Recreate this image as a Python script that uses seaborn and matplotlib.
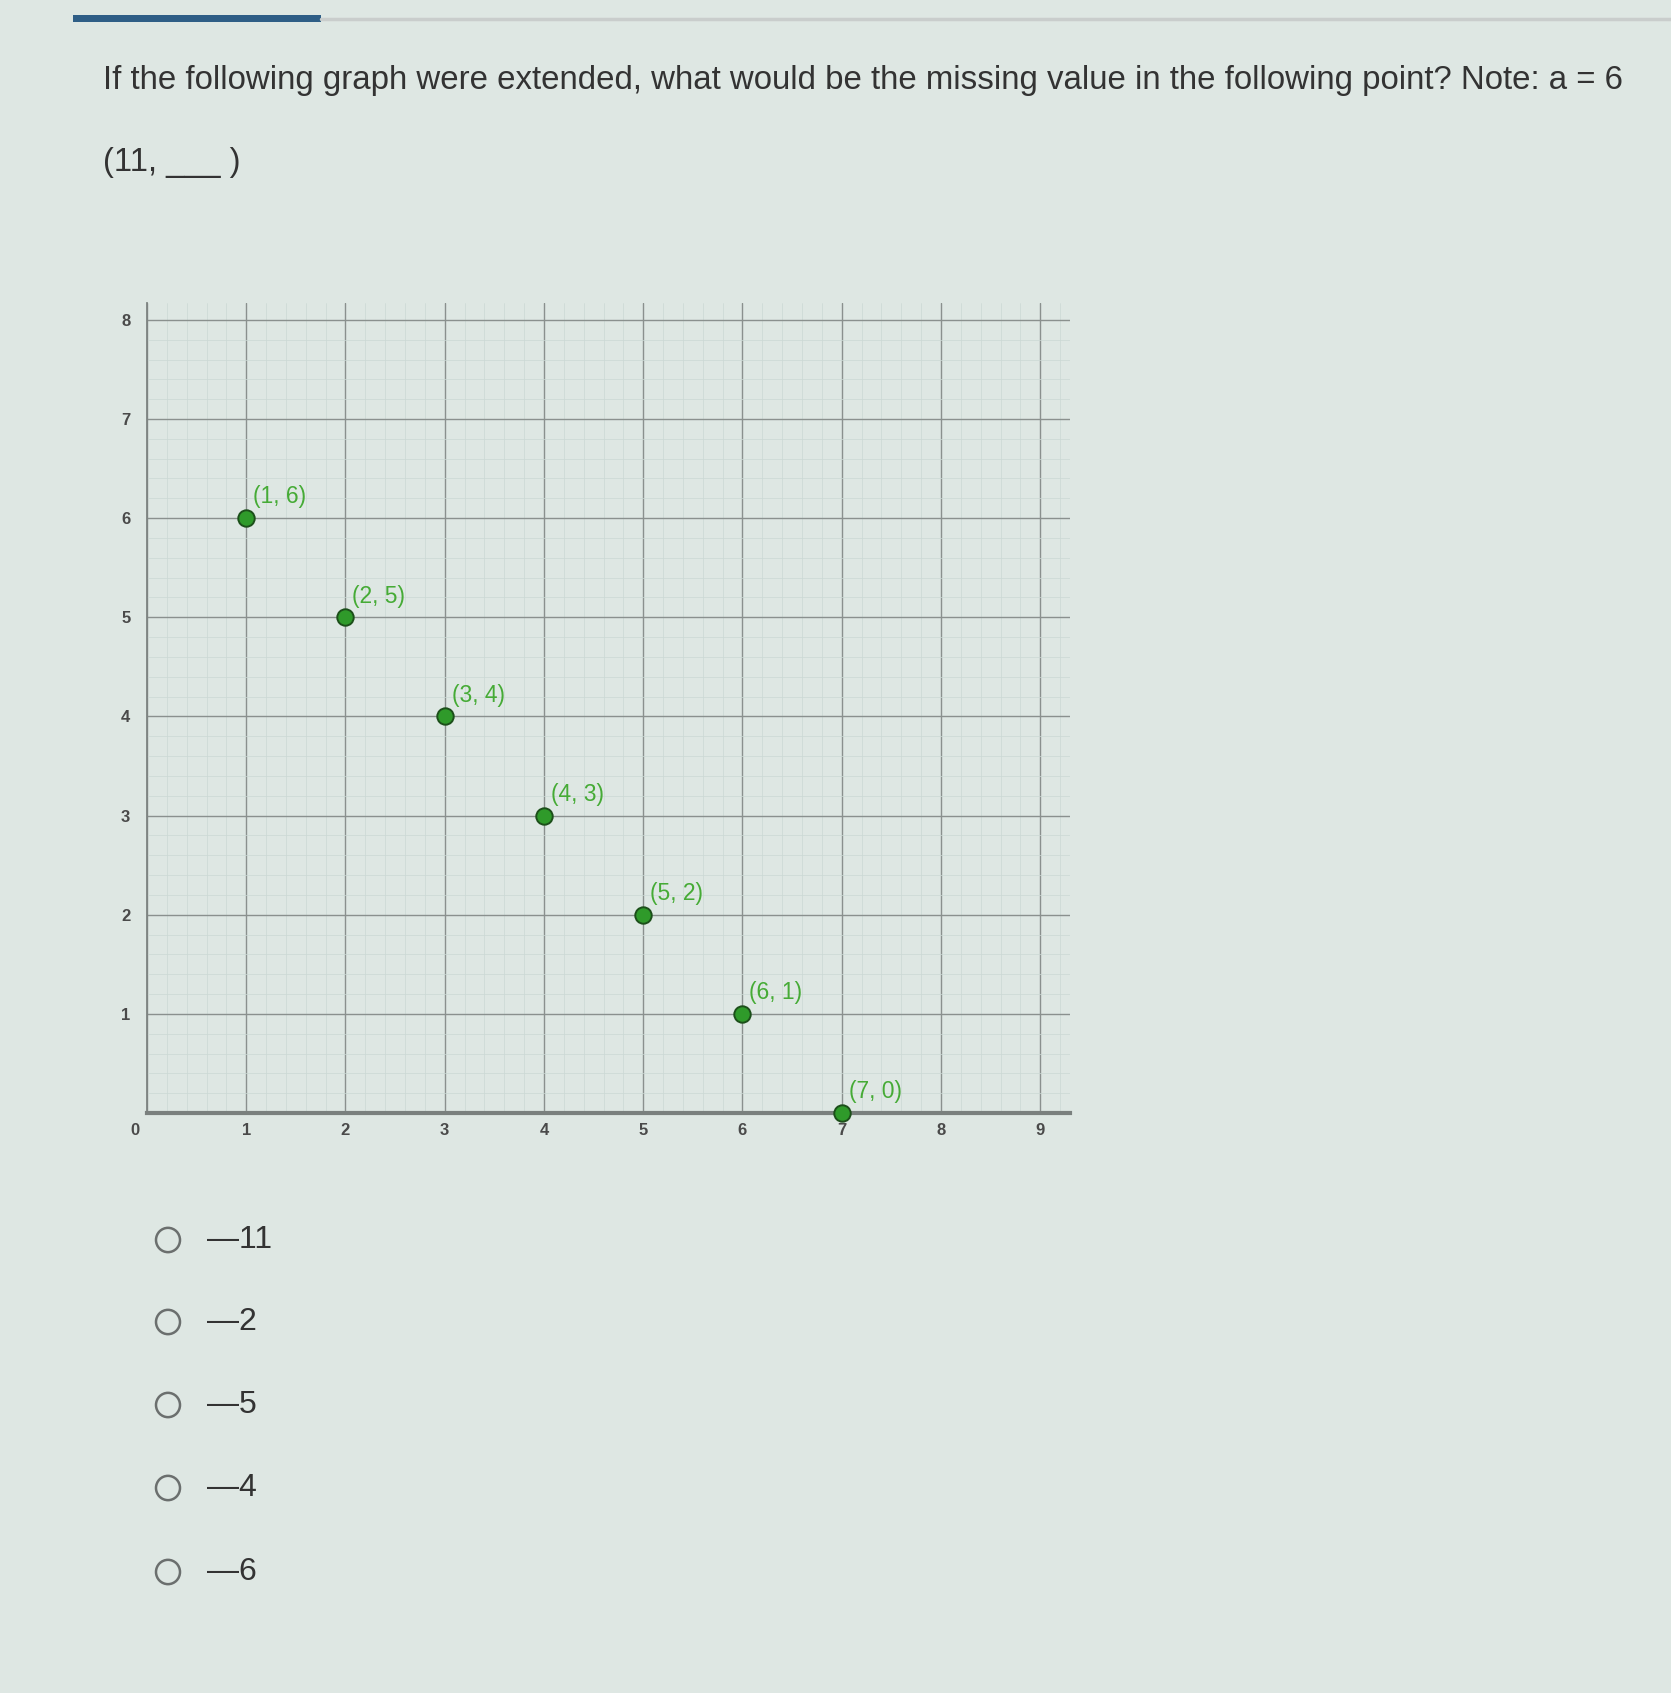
import matplotlib
matplotlib.use("Agg")
import matplotlib.pyplot as plt
import matplotlib.transforms as mtransforms
from matplotlib.lines import Line2D
from matplotlib.patches import Rectangle, Circle
import seaborn as sns
import pandas as pd
import numpy as np

# ---- data ----
point_x = [1, 2, 3, 4, 5, 6, 7]
point_y = [6, 5, 4, 3, 2, 1, 0]
point_labels = ["(1, 6)", "(2, 5)", "(3, 4)", "(4, 3)", "(5, 2)", "(6, 1)", "(7, 0)"]
x_ticks = [0, 1, 2, 3, 4, 5, 6, 7, 8, 9]
y_ticks = [1, 2, 3, 4, 5, 6, 7, 8]
question = "If the following graph were extended, what would be the missing value in the following point? Note: a = 6"
blank_point = "(11, ___ )"
answer_options = ["\u201411", "\u20142", "\u20145", "\u20144", "\u20146"]

sns.set_style("white")
plt.rcParams['font.family'] = ['Liberation Sans', 'DejaVu Sans']

BG = '#dee7e3'
W, H = 1671, 1693
fig = plt.figure(figsize=(W / 100, H / 100), dpi=100, facecolor=BG)

# axes placement in pixels
left_px, right_px, top_px, bottom_px = 147, 1070, 303, 1113
ax = fig.add_axes([left_px / W, 1 - bottom_px / H, (right_px - left_px) / W, (bottom_px - top_px) / H])
ax.set_facecolor('none')
ax.set_xlim(0, 9.3)
ax.set_ylim(0, 8.17)

# minor grid (faint)
ax.set_xticks(np.arange(0, 9.3, 0.2), minor=True)
ax.set_yticks(np.arange(0, 8.17, 0.2), minor=True)
ax.grid(which='minor', color='#cbd8d4', linewidth=0.5)
ax.set_xticks(x_ticks)
ax.set_yticks(y_ticks)
ax.set_xticklabels([str(t) for t in x_ticks])
ax.set_yticklabels([str(t) for t in y_ticks])
ax.grid(which='major', color='#8a908e', linewidth=1.0)
ax.tick_params(which='both', length=0)
ax.tick_params(axis='x', pad=7, labelsize=12, labelcolor='#4a4a4a')
ax.tick_params(axis='y', pad=12, labelsize=12, labelcolor='#4a4a4a')
for lab in ax.get_xticklabels() + ax.get_yticklabels():
    lab.set_fontweight('bold')
# shift "0" label left of origin
zero_lab = ax.get_xticklabels()[0]
zero_lab.set_transform(zero_lab.get_transform() + mtransforms.ScaledTranslation(-12 / 100, 0, fig.dpi_scale_trans))

for s in ['top', 'right']:
    ax.spines[s].set_visible(False)
ax.spines['left'].set_color('#7d8381')
ax.spines['left'].set_linewidth(1.3)
ax.spines['bottom'].set_color('#7a807e')
ax.spines['bottom'].set_linewidth(3.0)

df = pd.DataFrame({"x": point_x, "y": point_y, "label": point_labels})
sns.scatterplot(data=df, x="x", y="y", ax=ax, s=140, color='#2f9a2a',
                edgecolor='#1c4f1a', linewidth=1.4, zorder=5, clip_on=False, legend=False)
for xv, yv, lab in zip(df.x, df.y, df.label):
    ax.annotate(lab, (xv, yv), xytext=(5, 7), textcoords='offset points',
                ha='left', va='bottom', fontsize=16.5, color='#46ab36', zorder=6)
ax.set_xlabel("")
ax.set_ylabel("")

# header bar
fig.add_artist(Line2D([321 / W, 1.0], [1 - 18.5 / H, 1 - 18.5 / H], color='#c9cdcc', linewidth=2.5))
fig.add_artist(Rectangle((73 / W, 1 - 22 / H), (321 - 73) / W, 7 / H, color='#2e5e86', linewidth=0))

# question text
fig.text(103 / W, 1 - 81 / H, question, fontsize=23.8, color='#333333', ha='left', va='center')
fig.text(103 / W, 1 - 162 / H, blank_point, fontsize=23.5, color='#333333', ha='left', va='center')

# answer options
opt_y = [1240, 1322, 1405, 1488, 1572]
for yy, txt in zip(opt_y, answer_options):
    fig.add_artist(Circle((168 / W, 1 - yy / H), 12 / W, transform=fig.transFigure,
                          facecolor='none', edgecolor='#6b6f6e', linewidth=1.8))
    fig.text(207 / W, 1 - yy / H, txt, fontsize=23, color='#333333', ha='left', va='center')

fig.savefig("out.png", dpi=100, facecolor=BG)
